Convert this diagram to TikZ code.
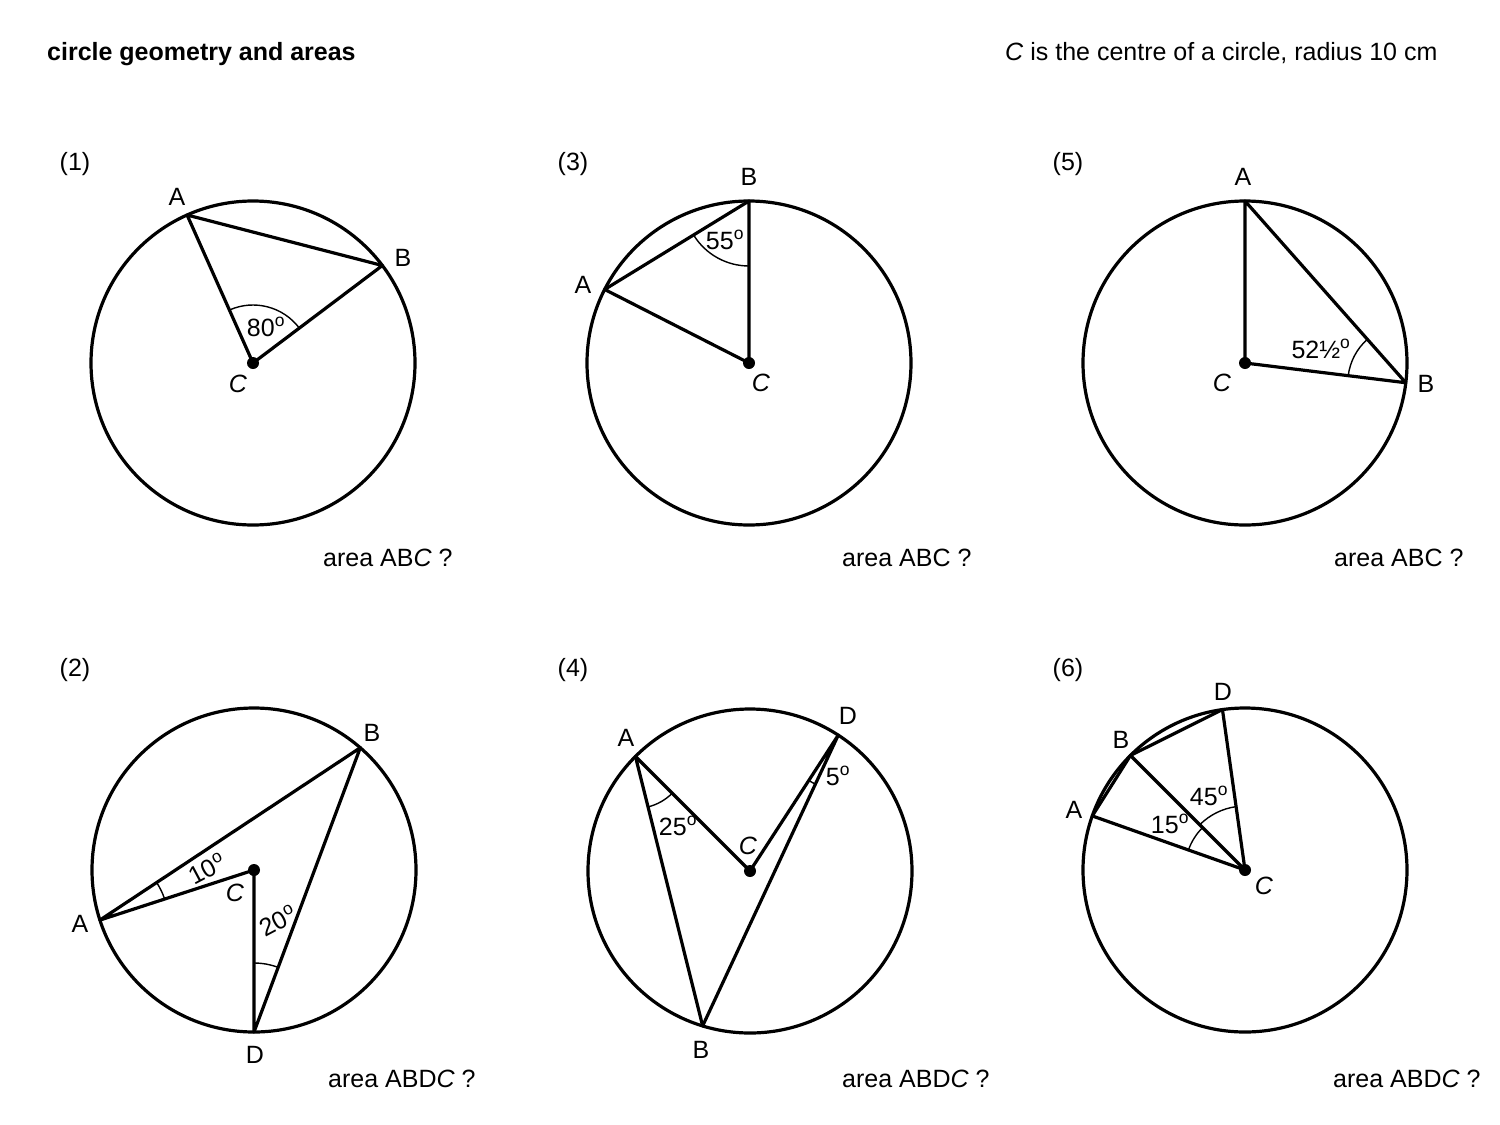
\documentclass[tikz,border=0pt]{standalone}
\usepackage{fontspec}
\setmainfont{Liberation Sans}
\usetikzlibrary{calc}
\newcommand{\dg}{\textsuperscript{o}}
\begin{document}
\begin{tikzpicture}[x=1pt,y=-1pt,
  ln/.style={line width=3.2pt, line join=round},
  arcl/.style={line width=1.4pt},
  lbl/.style={inner sep=0pt, font=\fontsize{25}{30}\selectfont},
  dot/.style={circle, fill=black, inner sep=0pt, minimum size=12pt}]
\useasboundingbox (0,0) rectangle (1500,1125);

% titles
\node[lbl, font=\fontsize{25}{30}\selectfont\bfseries, anchor=base west] (title) at (47,60) {circle geometry and areas};
\node[lbl, anchor=base west] (sub) at (1005,60) {\textit{C} is the centre of a circle, radius 10 cm};

% ---------- panel 1 ----------
\coordinate (C1) at (253,363);
\draw[ln] (C1) circle[radius=162];
\coordinate (A1) at ($(C1)+(-114:162)$);
\coordinate (B1) at ($(C1)+(-37:162)$);
\draw[ln] (A1) -- (B1) -- (C1) -- cycle;
\draw[arcl] ($(C1)+(-37:58)$) arc[start angle=-37, end angle=-114, radius=58];
\node[dot] (d1) at (C1) {};
\node[lbl] (n1) at (75,164) {(1)};
\node[lbl] (lA1) at (177,197) {A};
\node[lbl] (lB1) at (403,258) {B};
\node[lbl] (lC1) at (238,384) {\textit{C}};
\node[lbl, anchor=base] (g1) at (266,336) {80\dg};
\node[lbl, anchor=base west] (q1) at (323,566) {area AB\textit{C} ?};

% ---------- panel 3 ----------
\coordinate (C3) at (749,363);
\draw[ln] (C3) circle[radius=162];
\coordinate (A3) at ($(C3)+(-153:162)$);
\coordinate (B3) at ($(C3)+(-90:162)$);
\draw[ln] (A3) -- (B3) -- (C3) -- cycle;
\draw[arcl] ($(B3)+(-212:65)$) arc[start angle=-212, end angle=-270, radius=65];
\node[dot] (d3) at (C3) {};
\node[lbl] (n3) at (573,164) {(3)};
\node[lbl] (lA3) at (583,285) {A};
\node[lbl] (lB3) at (749,177) {B};
\node[lbl] (lC3) at (761,383) {\textit{C}};
\node[lbl, anchor=base] (g3) at (725,249) {55\dg};
\node[lbl, anchor=base west] (q3) at (842,566) {area ABC ?};

% ---------- panel 5 ----------
\coordinate (C5) at (1245,363);
\draw[ln] (C5) circle[radius=162];
\coordinate (A5) at ($(C5)+(-90:162)$);
\coordinate (B5) at ($(C5)+(7:162)$);
\draw[ln] (A5) -- (B5) -- (C5) -- cycle;
\draw[arcl] ($(B5)+(-131.5:58)$) arc[start angle=-131.5, end angle=-173, radius=58];
\node[dot] (d5) at (C5) {};
\node[lbl] (n5) at (1068,164) {(5)};
\node[lbl] (lA5) at (1243,177) {A};
\node[lbl] (lB5) at (1426,384) {B};
\node[lbl] (lC5) at (1222,383) {\textit{C}};
\node[lbl, anchor=base] (g5) at (1321,358) {52½\dg};
\node[lbl, anchor=base west] (q5) at (1334,566) {area ABC ?};

% ---------- panel 2 ----------
\coordinate (C2) at (254,870);
\draw[ln] (C2) circle[radius=162];
\coordinate (A2) at ($(C2)+(-198:162)$);
\coordinate (B2) at ($(C2)+(-49:162)$);
\coordinate (D2) at ($(C2)+(90:162)$);
\draw[ln] (A2) -- (B2) -- (D2) -- (C2) -- cycle;
\draw[arcl] ($(A2)+(-18:68)$) arc[start angle=-18, end angle=-33.5, radius=68];
\draw[arcl] ($(D2)+(-69.5:69)$) arc[start angle=-69.5, end angle=-90, radius=69];
\node[dot] (d2) at (C2) {};
\node[lbl] (n2) at (75,670) {(2)};
\node[lbl] (lA2) at (80,924) {A};
\node[lbl] (lB2) at (372,733) {B};
\node[lbl] (lC2) at (235,893) {\textit{C}};
\node[lbl] (lD2) at (255,1055) {D};
\node[lbl, rotate=28] (g2a) at (207,869) {10\dg};
\node[lbl, rotate=28] (g2b) at (278,921) {20\dg};
\node[lbl, anchor=base west] (q2) at (328,1087) {area ABD\textit{C} ?};

% ---------- panel 4 ----------
\coordinate (C4) at (750,871);
\draw[ln] (C4) circle[radius=162];
\coordinate (A4) at ($(C4)+(-135:162)$);
\coordinate (D4) at ($(C4)+(-57:162)$);
\coordinate (B4) at ($(C4)+(-253:162)$);
\draw[ln] (A4) -- (B4) -- (D4) -- (C4) -- cycle;
\draw[arcl] ($(A4)+(76:52)$) arc[start angle=76, end angle=45, radius=52];
\draw[arcl] ($(D4)+(-237:54)$) arc[start angle=-237, end angle=-245, radius=54];
\node[dot] (d4) at (C4) {};
\node[lbl] (n4) at (573,670) {(4)};
\node[lbl] (lA4) at (626,738) {A};
\node[lbl] (lB4) at (701,1050) {B};
\node[lbl] (lC4) at (748,846) {\textit{C}};
\node[lbl] (lD4) at (848,716) {D};
\node[lbl, anchor=base] (g4a) at (678,835) {25\dg};
\node[lbl, anchor=base] (g4b) at (838,785) {5\dg};
\node[lbl, anchor=base west] (q4) at (842,1087) {area ABD\textit{C} ?};

% ---------- panel 6 ----------
\coordinate (C6) at (1245,870);
\draw[ln] (C6) circle[radius=162];
\coordinate (A6) at ($(C6)+(-160.5:162)$);
\coordinate (B6) at ($(C6)+(-135:162)$);
\coordinate (D6) at ($(C6)+(-98:162)$);
\draw[ln] (A6) -- (B6) -- (D6) -- (C6) -- cycle;
\draw[ln] (B6) -- (C6);
\draw[arcl] ($(C6)+(-135:60)$) arc[start angle=-135, end angle=-160.5, radius=60];
\draw[arcl] ($(C6)+(-98:64)$) arc[start angle=-98, end angle=-135, radius=64];
\node[dot] (d6) at (C6) {};
\node[lbl] (n6) at (1068,670) {(6)};
\node[lbl] (lA6) at (1074,810) {A};
\node[lbl] (lB6) at (1121,740) {B};
\node[lbl] (lC6) at (1264,886) {\textit{C}};
\node[lbl] (lD6) at (1223,692) {D};
\node[lbl, anchor=base] (g6a) at (1170,833) {15\dg};
\node[lbl, anchor=base] (g6b) at (1209,805) {45\dg};
\node[lbl, anchor=base west] (q6) at (1333,1087) {area ABD\textit{C} ?};
\end{tikzpicture}
\end{document}
